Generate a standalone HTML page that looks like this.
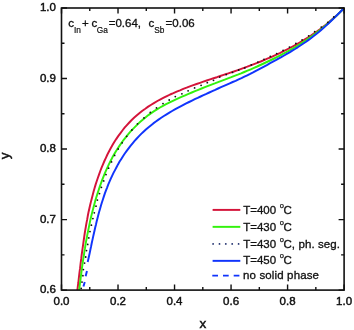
<!DOCTYPE html>
<html lang="en"><head><meta charset="utf-8"><title>y vs x</title>
<style>html,body{margin:0;padding:0;background:#fff;overflow:hidden}body{width:354px;height:330px;position:relative}</style>
</head><body>
<svg width="354" height="330" viewBox="0 0 354 330" style="display:block;position:absolute;left:0;top:0" font-family="'Liberation Sans', sans-serif" fill="#111" stroke="#111" stroke-width="0.45">
<rect stroke="none" width="354" height="330" fill="#fff"/>
<g fill="none" stroke-width="1.95" stroke-linejoin="round">
<path d="M77.4,290.0 L77.8,286.5 L78.3,283.0 L78.7,279.4 L79.1,275.9 L79.5,272.4 L80.0,268.9 L80.4,265.3 L80.8,261.8 L81.3,258.2 L81.7,254.7 L82.2,251.2 L82.7,247.6 L83.2,244.1 L83.7,240.5 L84.2,237.0 L84.7,233.5 L85.3,229.9 L85.9,226.4 L86.5,222.9 L87.2,219.4 L87.8,215.8 L88.5,212.3 L89.3,208.8 L90.1,205.3 L90.9,201.9 L91.8,198.4 L92.7,194.9 L93.6,191.5 L94.6,188.0 L95.6,184.6 L96.7,181.2 L97.9,177.8 L99.1,174.4 L100.3,171.0 L101.6,167.6 L103.0,164.3 L104.4,161.0 L105.9,157.8 L107.4,154.5 L109.1,151.3 L110.7,148.2 L112.5,145.1 L114.3,142.1 L116.2,139.1 L118.2,136.1 L120.3,133.3 L122.4,130.5 L124.6,127.7 L126.9,125.1 L129.3,122.5 L131.7,120.0 L134.3,117.5 L136.9,115.2 L139.6,112.9 L142.4,110.7 L145.3,108.7 L148.2,106.6 L151.2,104.7 L154.3,102.8 L157.4,101.0 L160.5,99.3 L163.7,97.7 L166.9,96.1 L170.1,94.5 L173.4,93.1 L176.7,91.6 L180.0,90.3 L183.3,88.9 L186.6,87.7 L189.9,86.4 L193.3,85.2 L196.6,84.0 L200.0,82.8 L203.3,81.7 L206.7,80.5 L210.1,79.4 L213.5,78.3 L216.9,77.2 L220.3,76.0 L223.6,74.9 L227.0,73.8 L230.4,72.6 L233.8,71.5 L237.2,70.3 L240.6,69.1 L243.9,67.9 L247.3,66.7 L250.7,65.4 L254.0,64.1 L257.3,62.8 L260.7,61.5 L264.0,60.1 L267.3,58.7 L270.6,57.3 L273.8,55.8 L277.1,54.3 L280.3,52.8 L283.5,51.2 L286.7,49.6 L289.8,48.0 L293.0,46.3 L296.1,44.6 L299.2,42.8 L302.2,41.0 L305.3,39.1 L308.3,37.2 L311.3,35.3 L314.2,33.3 L317.1,31.3 L320.0,29.2 L322.8,27.1 L325.6,24.9 L328.4,22.6 L331.1,20.3 L333.8,18.0 L336.4,15.6 L339.0,13.1 L341.6,10.6 L344.1,8.0" stroke="#d4143a"/>
<path d="M79.2,290.0 L79.6,286.5 L80.0,283.0 L80.5,279.5 L80.9,276.0 L81.4,272.5 L81.8,269.0 L82.3,265.5 L82.8,262.0 L83.3,258.6 L83.9,255.1 L84.4,251.6 L85.0,248.2 L85.5,244.7 L86.1,241.3 L86.8,237.8 L87.4,234.4 L88.1,231.0 L88.8,227.6 L89.5,224.1 L90.2,220.7 L91.0,217.3 L91.8,213.9 L92.7,210.5 L93.6,207.1 L94.5,203.7 L95.4,200.3 L96.4,197.0 L97.5,193.6 L98.6,190.2 L99.7,186.9 L100.9,183.5 L102.1,180.2 L103.4,176.9 L104.7,173.6 L106.1,170.3 L107.6,167.1 L109.1,163.9 L110.7,160.8 L112.3,157.6 L114.0,154.6 L115.8,151.5 L117.7,148.5 L119.6,145.6 L121.6,142.7 L123.7,139.8 L125.9,137.1 L128.1,134.4 L130.4,131.7 L132.8,129.1 L135.3,126.6 L137.8,124.1 L140.3,121.8 L143.0,119.5 L145.7,117.3 L148.4,115.1 L151.2,113.1 L154.1,111.1 L157.0,109.3 L160.0,107.5 L163.0,105.8 L166.1,104.2 L169.2,102.6 L172.4,101.1 L175.5,99.6 L178.7,98.1 L182.0,96.7 L185.2,95.3 L188.5,93.9 L191.8,92.5 L195.0,91.2 L198.3,89.8 L201.6,88.5 L204.9,87.2 L208.2,85.9 L211.5,84.6 L214.8,83.4 L218.1,82.1 L221.4,80.9 L224.7,79.7 L228.0,78.4 L231.3,77.2 L234.5,75.9 L237.8,74.7 L241.1,73.4 L244.3,72.0 L247.5,70.7 L250.8,69.3 L254.0,67.9 L257.2,66.5 L260.4,65.0 L263.6,63.5 L266.8,62.0 L270.0,60.5 L273.1,59.0 L276.3,57.4 L279.4,55.8 L282.5,54.2 L285.6,52.5 L288.7,50.8 L291.7,49.1 L294.8,47.3 L297.8,45.5 L300.7,43.7 L303.7,41.8 L306.6,39.8 L309.5,37.8 L312.4,35.8 L315.2,33.7 L318.0,31.6 L320.8,29.4 L323.5,27.2 L326.2,24.9 L328.9,22.6 L331.5,20.3 L334.1,17.9 L336.7,15.5 L339.2,13.0 L341.7,10.5 L344.1,8.0" stroke="#32f20c"/>
<path d="M87.7,262.0 L88.4,258.9 L89.1,255.8 L89.8,252.6 L90.4,249.5 L91.1,246.4 L91.7,243.2 L92.4,240.1 L93.1,236.9 L93.8,233.8 L94.5,230.7 L95.2,227.5 L96.0,224.4 L96.7,221.3 L97.5,218.2 L98.3,215.1 L99.1,212.0 L100.0,208.9 L100.9,205.8 L101.8,202.7 L102.8,199.7 L103.8,196.6 L104.8,193.6 L105.9,190.6 L107.1,187.6 L108.2,184.6 L109.5,181.7 L110.8,178.7 L112.1,175.8 L113.5,172.9 L115.0,170.1 L116.5,167.2 L118.0,164.4 L119.6,161.6 L121.3,158.9 L123.0,156.2 L124.8,153.5 L126.7,150.9 L128.6,148.3 L130.5,145.8 L132.6,143.3 L134.6,140.9 L136.8,138.5 L139.0,136.2 L141.2,133.9 L143.5,131.7 L145.9,129.5 L148.3,127.4 L150.8,125.4 L153.3,123.4 L155.9,121.5 L158.5,119.6 L161.2,117.8 L163.9,116.0 L166.6,114.3 L169.4,112.6 L172.1,111.0 L174.9,109.4 L177.7,107.9 L180.6,106.4 L183.4,104.9 L186.2,103.4 L189.1,102.0 L192.0,100.6 L194.8,99.2 L197.7,97.9 L200.6,96.5 L203.5,95.2 L206.4,93.9 L209.3,92.5 L212.3,91.2 L215.2,89.9 L218.1,88.5 L221.0,87.2 L224.0,85.9 L226.9,84.6 L229.8,83.3 L232.7,82.0 L235.6,80.8 L238.6,79.4 L241.5,78.1 L244.4,76.7 L247.3,75.3 L250.2,73.9 L253.1,72.4 L255.9,70.8 L258.8,69.3 L261.6,67.8 L264.5,66.3 L267.3,64.8 L270.1,63.2 L273.0,61.7 L275.8,60.2 L278.5,58.6 L281.3,57.1 L284.1,55.5 L286.8,53.9 L289.6,52.3 L292.3,50.6 L295.0,49.0 L297.7,47.3 L300.4,45.5 L303.0,43.8 L305.7,42.0 L308.3,40.1 L310.9,38.2 L313.4,36.3 L316.0,34.3 L318.5,32.3 L320.9,30.2 L323.4,28.1 L325.8,25.9 L328.2,23.7 L330.5,21.5 L332.8,19.3 L335.1,17.0 L337.4,14.8 L339.7,12.5 L341.9,10.3 L344.1,8.0" stroke="#1034fc"/>
<path d="M86.95,270.9L85.65,276.3M84.75,282.1L83.45,286.6" stroke="#1034fc"/>
</g>
<g fill="#111" stroke="none"><circle cx="81.2" cy="288.4" r="0.9"/><circle cx="82" cy="282.1" r="0.9"/><circle cx="82.9" cy="275.7" r="0.9"/><circle cx="83.4" cy="269.6" r="0.9"/><circle cx="84.6" cy="263.1" r="0.9"/><circle cx="85.7" cy="257" r="0.9"/><circle cx="86.5" cy="250.6" r="0.9"/><circle cx="87.7" cy="244.4" r="0.9"/><circle cx="88.8" cy="237.9" r="0.9"/><circle cx="90" cy="231.6" r="0.9"/><circle cx="91.4" cy="225.2" r="0.9"/><circle cx="92.9" cy="218.6" r="0.9"/><circle cx="94.3" cy="212.8" r="0.9"/><circle cx="96" cy="206.2" r="0.9"/><circle cx="97.4" cy="200.1" r="0.9"/><circle cx="99.5" cy="193.6" r="0.9"/><circle cx="101.4" cy="187.3" r="0.9"/><circle cx="103.7" cy="180.9" r="0.9"/><circle cx="106" cy="174.6" r="0.9"/><circle cx="108.6" cy="168.2" r="0.9"/><circle cx="111.5" cy="161.9" r="0.9"/><circle cx="114.6" cy="155.4" r="0.9"/><circle cx="118.2" cy="149" r="0.9"/><circle cx="122.2" cy="142.8" r="0.9"/><circle cx="126.7" cy="136.3" r="0.9"/><circle cx="131.9" cy="130" r="0.9"/><circle cx="137.5" cy="123.8" r="0.9"/><circle cx="144" cy="117.9" r="0.9"/><circle cx="150.3" cy="112.5" r="0.9"/><circle cx="156.5" cy="107.9" r="0.9"/><circle cx="163" cy="103.6" r="0.9"/><circle cx="169.2" cy="100" r="0.9"/><circle cx="175.3" cy="96.6" r="0.9"/><circle cx="181.9" cy="93.8" r="0.9"/><circle cx="188.1" cy="90.8" r="0.9"/><circle cx="194.6" cy="87.9" r="0.9"/><circle cx="201.1" cy="85.3" r="0.9"/><circle cx="207.3" cy="82.7" r="0.9"/><circle cx="213.5" cy="80.3" r="0.9"/><circle cx="219.7" cy="77.1" r="0.9"/><circle cx="226.2" cy="74.6" r="0.9"/><circle cx="232.5" cy="72.4" r="0.9"/><circle cx="238.7" cy="70" r="0.9"/><circle cx="244.8" cy="67.9" r="0.9"/><circle cx="251.3" cy="64.9" r="0.9"/><circle cx="257.9" cy="62.1" r="0.9"/><circle cx="264" cy="59.3" r="0.9"/><circle cx="270.3" cy="56.5" r="0.9"/><circle cx="276.7" cy="53.6" r="0.9"/><circle cx="283.1" cy="50.5" r="0.9"/><circle cx="289.5" cy="47.1" r="0.9"/><circle cx="295.9" cy="43.5" r="0.9"/><circle cx="302.1" cy="40" r="0.9"/><circle cx="308.7" cy="35.8" r="0.9"/><circle cx="314.7" cy="31.6" r="0.9"/><circle cx="321.3" cy="27.1" r="0.9"/><circle cx="327.8" cy="22.3" r="0.9"/><circle cx="333.8" cy="17" r="0.9"/></g>
<rect x="61.5" y="8.0" width="282.6" height="282.1" fill="none" stroke="#111" stroke-width="1.6"/>
<path d="M61.5,290.10h5.5M344.1,290.10h-5.5M61.5,254.84h3M344.1,254.84h-3M61.5,219.58h5.5M344.1,219.58h-5.5M61.5,184.31h3M344.1,184.31h-3M61.5,149.05h5.5M344.1,149.05h-5.5M61.5,113.79h3M344.1,113.79h-3M61.5,78.52h5.5M344.1,78.52h-5.5M61.5,43.26h3M344.1,43.26h-3M61.5,8.00h5.5M344.1,8.00h-5.5M61.50,290.1v-5.5M61.50,8.0v5.5M89.76,290.1v-3M89.76,8.0v3M118.02,290.1v-5.5M118.02,8.0v5.5M146.28,290.1v-3M146.28,8.0v3M174.54,290.1v-5.5M174.54,8.0v5.5M202.80,290.1v-3M202.80,8.0v3M231.06,290.1v-5.5M231.06,8.0v5.5M259.32,290.1v-3M259.32,8.0v3M287.58,290.1v-5.5M287.58,8.0v5.5M315.84,290.1v-3M315.84,8.0v3M344.10,290.1v-5.5M344.10,8.0v5.5" stroke="#111" stroke-width="1.4" fill="none"/>
<g font-size="11.5" text-anchor="end">
<text x="55.9" y="293.1">0.6</text>
<text x="55.9" y="222.6">0.7</text>
<text x="55.9" y="152.1">0.8</text>
<text x="55.9" y="81.5">0.9</text>
<text x="55.9" y="11.0">1.0</text>
</g>
<g font-size="11.5" text-anchor="middle">
<text x="61.5" y="305.2">0.0</text>
<text x="118.0" y="305.2">0.2</text>
<text x="174.5" y="305.2">0.4</text>
<text x="231.1" y="305.2">0.6</text>
<text x="287.6" y="305.2">0.8</text>
<text x="344.1" y="305.2">1.0</text>
</g>
<text x="202.8" y="327.8" font-size="13.5" text-anchor="middle">x</text>
<text transform="translate(9.4,155.8) rotate(-90)" font-size="13.5" text-anchor="middle">y</text>
<g font-size="11.5" stroke-width="0.32">
<text x="68.3" y="27.4">c</text><text x="73.9" y="32.7" font-size="8.3" stroke-width="0.2">In</text><text x="82.1" y="27.4">+</text>
<text x="91.4" y="27.4">c</text><text x="96.8" y="32.7" font-size="8.3" stroke-width="0.2">Ga</text><text x="108.7" y="27.4">=0.64,</text>
<text x="148.5" y="27.4">c</text><text x="154.3" y="32.7" font-size="8.3" stroke-width="0.2">Sb</text><text x="165.6" y="27.4">=0.06</text>
</g>
<g fill="none" stroke-width="1.95">
<path d="M212.6,209.9H240.3" stroke="#d4143a"/>
<path d="M212.6,226.85H240.3" stroke="#32f20c"/>
<path d="M212.6,260.85H240.3" stroke="#1034fc"/>
<path d="M212.3,275.6H239.7" stroke="#1034fc" stroke-dasharray="5.7 5.0"/>
</g>
<g fill="#1a2a6a" stroke="none"><circle cx="213.1" cy="243.9" r="0.9"/><circle cx="219.5" cy="243.9" r="0.9"/><circle cx="225.8" cy="243.9" r="0.9"/><circle cx="232.2" cy="243.9" r="0.9"/><circle cx="238.6" cy="243.9" r="0.9"/></g>
<g font-size="11.5" stroke-width="0.32">
<text x="243.2" y="213.6">T=400</text><text x="279.7" y="207.7" font-size="7.5" stroke-width="0.25">o</text><text x="283.4" y="213.6" letter-spacing="0.1">C</text>
<text x="243.2" y="230.6">T=430</text><text x="279.7" y="224.7" font-size="7.5" stroke-width="0.25">o</text><text x="283.4" y="230.6" letter-spacing="0.1">C</text>
<text x="243.2" y="247.5">T=430</text><text x="279.7" y="241.6" font-size="7.5" stroke-width="0.25">o</text><text x="283.4" y="247.5" letter-spacing="0.1">C, ph. seg.</text>
<text x="243.2" y="264.2">T=450</text><text x="279.7" y="258.3" font-size="7.5" stroke-width="0.25">o</text><text x="283.4" y="264.2" letter-spacing="0.1">C</text>
<text x="243.0" y="278.8" letter-spacing="0.14">no solid phase</text>
</g>
</svg>
</body></html>
